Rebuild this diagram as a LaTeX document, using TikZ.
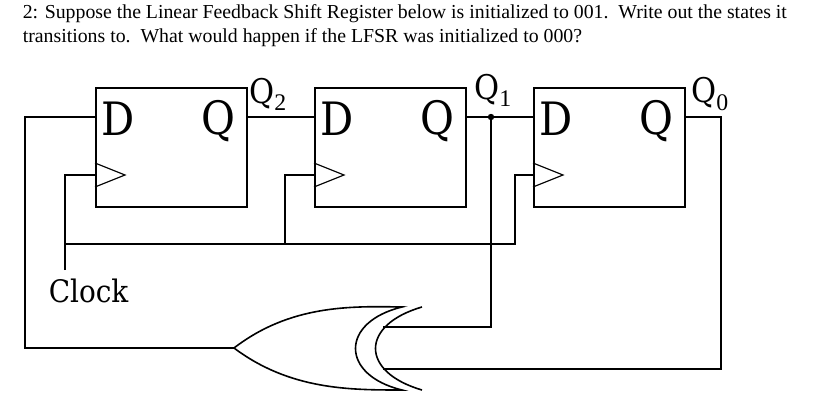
\documentclass[tikz,border=0pt]{standalone}
\usepackage{fontspec}
\setmainfont{Liberation Serif}
\newfontfamily\dq{DejaVu Serif Condensed}
\begin{document}
\begin{tikzpicture}[x=1pt,y=-1pt,line width=1.6pt,
  ff/.style={draw,minimum width=151pt,minimum height=119pt,anchor=north west,inner sep=0},
  lbl/.style={font=\dq\fontsize{46}{46}\selectfont,inner sep=0},
  ql/.style={font=\dq\fontsize{34}{34}\selectfont,inner sep=0}]
\useasboundingbox (0,0) rectangle (816,406);
\node[anchor=north west,align=left,inner sep=0,font=\fontsize{19.8}{24}\selectfont] (title) at (22,4)
 {2: Suppose the Linear Feedback Shift Register below is initialized to 001.\ \ Write out the states it\\transitions to.\ \ What would happen if the LFSR was initialized to 000?};
\foreach \n/\x in {a/95,b/314,c/533}{
  \node[ff] (\n) at (\x,87) {};
  \node[lbl] (\n D) at (\x+23,119) {D};
  \node[lbl] (\n Q) at (\x+123,121) {Q};
  \coordinate (\n d) at (\x,117);
  \coordinate (\n q) at (\x+151,117);
  \coordinate (\n k) at (\x,175);
  \draw[line width=1.2pt] (\x,163) -- (\x+30,175) -- (\x,187);
}
\node[ql] (q2) at (268,94) {Q$_{\mathrm{2}}$};
\node[ql] (q1) at (493,90) {Q$_{\mathrm{1}}$};
\node[ql] (q0) at (710,94) {Q$_{\mathrm{0}}$};
\draw (aq) -- (bd);
\draw (bq) -- (cd);
\coordinate (j) at (491,117);
\fill (j) circle (3.2pt);
% clock
\coordinate (k0) at (65,270);
\draw (k0) |- (ak);
\draw (65,244) -- (515,244) |- (ck);
\draw (285,244) |- (bk);
\node[font=\dq\fontsize{31}{31}\selectfont,anchor=north west,inner sep=0] (clk) at (48,278) {Clock};
% XOR gate
\coordinate (go) at (234,348);
\coordinate (gi1) at (383,327);
\coordinate (gi2) at (383,369);
\draw (go) .. controls (290,305) and (350,306) .. (402,307)
  .. controls (340,322) and (340,375) .. (402,390)
  .. controls (350,390) and (290,390) .. (go);
\draw (422,307) .. controls (360,325) and (360,372) .. (422,390);
\draw (j) |- (gi1);
\draw (cq) -- (721,117) |- (gi2);
\draw (go) -- (25,348) |- (ad);
\end{tikzpicture}
\end{document}
